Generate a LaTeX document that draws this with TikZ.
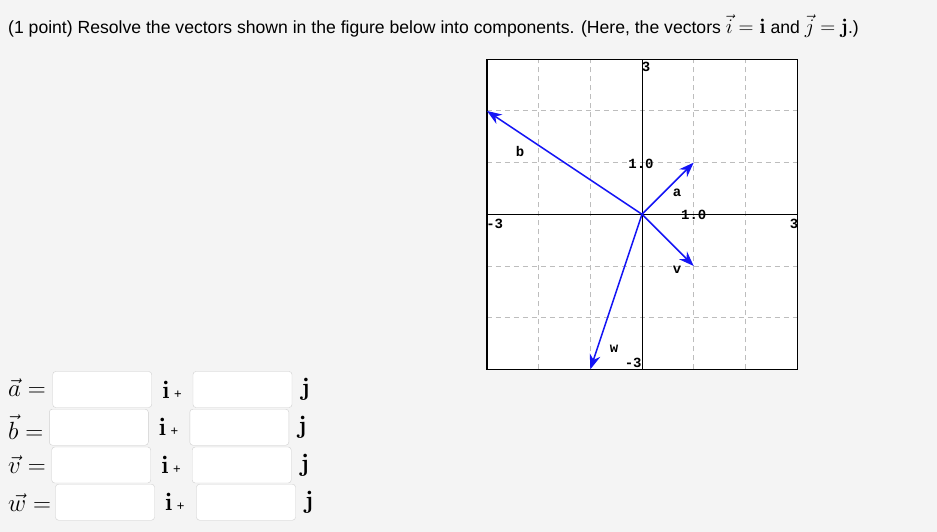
\documentclass[tikz,border=0pt]{standalone}
\usepackage{amsmath}
\usepackage[no-math]{fontspec}
\setmainfont{Liberation Sans}
\newfontfamily\plotfont{Liberation Mono}
\usetikzlibrary{arrows.meta, positioning}
\definecolor{pagegray}{HTML}{F4F4F4}
\definecolor{vecblue}{HTML}{1414F5}
\definecolor{gridgray}{HTML}{BDBDBD}
\definecolor{boxgray}{HTML}{CFCFCF}
\newcommand{\bigmath}[1]{{\fontsize{22}{24}\selectfont$#1$}}
\newcommand{\smallplus}{{\fontsize{13}{13}\selectfont +}}
\tikzset{
    answerbox/.style={
        draw=boxgray,
        fill=white,
        rounded corners=3pt,
        minimum width=99pt,
        minimum height=36pt,
        inner sep=0pt,
    },
    vecarrow/.style={
        draw=vecblue,
        line width=1.5pt,
        -{Stealth[length=15pt,width=11pt]},
    },
    gridline/.style={
        draw=gridgray,
        line width=0.9pt,
        dash pattern=on 5pt off 4pt,
    },
    ticklabel/.style={
        font=\plotfont\bfseries\fontsize{14}{14}\selectfont,
        inner sep=0pt,
    },
    veclabel/.style={
        font=\plotfont\bfseries\fontsize{14}{14}\selectfont,
        inner sep=0pt,
    },
    rowlabel/.style={
        anchor=west,
        inner sep=0pt,
        font=\fontsize{26}{28}\selectfont,
    },
    unitlabel/.style={
        inner sep=0pt,
        font=\fontsize{25}{28}\selectfont,
    },
}

\begin{document}
\begin{tikzpicture}[x=1pt, y=-1pt]
    \fill[pagegray] (0,0) rectangle (937,532);
    \useasboundingbox (0,0) rectangle (937,532);

    \node[anchor=base west, inner sep=0pt, font=\fontsize{17.6}{21}\selectfont] (title) at (8,34)
        {(1 point) Resolve the vectors shown in the figure below into components. (Here, the vectors \bigmath{\vec{i} = \mathbf{i}} and \bigmath{\vec{j} = \mathbf{j}}.)};

    \begin{scope}[shift={(642,214.3)}]
    \begin{scope}[x=51.7pt, y=51.7pt]
        \fill[white] (-3,-3) rectangle (3,3);
        \draw[gridline] (-3,-3) grid[step={(1,1)}] (3,3);
        \draw[line width=1pt] (-3,0) -- (3,0);
        \draw[line width=1pt] (0,-3) -- (0,3);
        \draw[line width=1.2pt] (-3,-3) rectangle (3,3);

        \coordinate (O) at (0,0);
        \coordinate (A) at (1,1);
        \coordinate (B) at (-3,2);
        \coordinate (V) at (1,-1);
        \coordinate (W) at (-1,-3);

        \draw[vecarrow] (O) -- (A);
        \draw[vecarrow] (O) -- (B);
        \draw[vecarrow] (O) -- (V);
        \draw[vecarrow] (O) -- (W);

        \node[ticklabel] (ytop) at (0.08,2.85) {3};
        \node[ticklabel] (yone) at (-0.02,0.97) {1.0};
        \node[ticklabel] (xone) at (1.0,-0.02) {1.0};
        \node[ticklabel] (xleft) at (-2.85,-0.19) {-3};
        \node[ticklabel] (xright) at (2.94,-0.19) {3};
        \node[ticklabel] (ybottom) at (-0.17,-2.87) {-3};

        \node[veclabel] (labb) at (-2.36,1.21) {b};
        \node[veclabel] (laba) at (0.68,0.41) {a};
        \node[veclabel] (labv) at (0.68,-1.08) {v};
        \node[veclabel] (labw) at (-0.54,-2.6) {w};
    \end{scope}
    \end{scope}

    \node[rowlabel] (ra) at (8,388) {$\vec{a} =$};
    \node[answerbox] (a1) at (102.2,389.5) {};
    \node[unitlabel, right=10pt of a1] (ai) {$\mathbf{i}$\,\smallplus};
    \node[answerbox] (a2) at (242.5,389.5) {};
    \node[unitlabel, right=9pt of a2] (aj) {$\mathbf{j}$};

    \node[rowlabel] (rb) at (8,427) {$\vec{b} =$};
    \node[answerbox] (b1) at (98.8,427.2) {};
    \node[unitlabel, right=10pt of b1] (bi) {$\mathbf{i}$\,\smallplus};
    \node[answerbox] (b2) at (239.3,427.2) {};
    \node[unitlabel, right=9pt of b2] (bj) {$\mathbf{j}$};

    \node[rowlabel] (rv) at (8,465) {$\vec{v} =$};
    \node[answerbox] (v1) at (101.2,465) {};
    \node[unitlabel, right=10pt of v1] (vi) {$\mathbf{i}$\,\smallplus};
    \node[answerbox] (v2) at (241.7,465) {};
    \node[unitlabel, right=9pt of v2] (vj) {$\mathbf{j}$};

    \node[rowlabel] (rw) at (8,502.5) {$\vec{w} =$};
    \node[answerbox] (w1) at (105,502.2) {};
    \node[unitlabel, right=10pt of w1] (wi) {$\mathbf{i}$\,\smallplus};
    \node[answerbox] (w2) at (246,502.2) {};
    \node[unitlabel, right=9pt of w2] (wj) {$\mathbf{j}$};
\end{tikzpicture}
\end{document}
